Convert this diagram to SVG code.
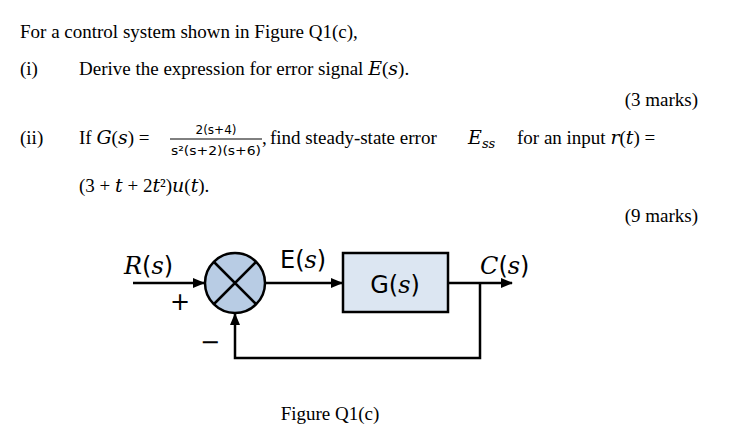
<svg xmlns="http://www.w3.org/2000/svg" width="755" height="440" viewBox="0 0 755 440">
<style>
.t{font-family:"Liberation Serif",serif;font-size:19px;fill:#000}
.m{font-family:"DejaVu Serif","Liberation Serif",serif;font-style:italic}
.f{font-family:"DejaVu Sans","Liberation Sans",sans-serif;font-size:12px;fill:#000}
.c{font-family:"DejaVu Sans","Liberation Sans",sans-serif;font-size:24px;fill:#000}
.l{stroke:#000;stroke-width:2.5;fill:none}
</style>
<defs><marker id="a" viewBox="0 0 12 10" refX="11" refY="5" markerWidth="12" markerHeight="10" orient="auto" markerUnits="userSpaceOnUse"><path d="M0,0L12,5L0,10z" fill="#000"/></marker></defs>
<rect width="755" height="440" fill="#fff"/>
<text class="t" x="20" y="38">For a control system shown in Figure Q1(c),</text>
<text class="t" x="20" y="75">(i)</text>
<text class="t" x="79" y="75">Derive the expression for error signal <tspan class="m">E</tspan>(<tspan class="m">s</tspan>).</text>
<text class="t" x="698" y="106" text-anchor="end">(3 marks)</text>
<text class="t" x="20" y="144">(ii)</text>
<text class="t" x="79" y="144">If  <tspan class="m">G</tspan>(<tspan class="m">s</tspan>) =</text>
<text class="f" x="216" y="134" text-anchor="middle">2(s+4)</text>
<line x1="170" y1="139" x2="262" y2="139" stroke="#000" stroke-width="1"/>
<text class="f" x="216" y="155" text-anchor="middle" textLength="90" lengthAdjust="spacingAndGlyphs">s²(s+2)(s+6)</text>
<text class="t" x="262" y="144">,</text>
<text class="t" x="270" y="144">find   steady-state   error  </text>
<text class="t" x="468" y="144"><tspan class="m">E</tspan><tspan class="m" font-size="13" dy="4">ss</tspan></text>
<text class="t" x="517" y="144">for   an   input   <tspan class="m">r</tspan>(<tspan class="m">t</tspan>) =</text>
<text class="t" x="79" y="192">(3 + <tspan class="m">t</tspan> + 2<tspan class="m">t</tspan>²)<tspan class="m">u</tspan>(<tspan class="m">t</tspan>).</text>
<text class="t" x="698" y="222" text-anchor="end">(9 marks)</text>
<g id="sum"><circle cx="235" cy="283" r="30" fill="#b8cce4" stroke="#000" stroke-width="2.5"/><path class="l" d="M214,262L256,304M256,262L214,304"/></g>
<g id="G"><rect x="343" y="253" width="105" height="59" fill="#dce6f2" stroke="#000" stroke-width="2.5"/><text class="c" x="395" y="293" text-anchor="middle">G(<tspan class="m">s</tspan>)</text></g>
<g id="connectors">
<path class="l" d="M133,283H204" marker-end="url(#a)"/>
<path class="l" d="M265,283H342" marker-end="url(#a)"/>
<path class="l" d="M448,283H512" marker-end="url(#a)"/>
<path class="l" d="M480,283V358H235V314" marker-end="url(#a)"/>
</g>
<text class="c" x="124" y="274" font-family="Liberation Serif"><tspan class="m">R</tspan>(<tspan class="m">s</tspan>)</text>
<text class="c" x="170" y="310">+</text>
<text class="c" x="200" y="350">−</text>
<text class="c" x="280" y="268">E(<tspan class="m">s</tspan>)</text>
<text class="c" x="480" y="274" font-family="Liberation Serif"><tspan class="m">C</tspan>(<tspan class="m">s</tspan>)</text>
<text class="t" x="330" y="420" text-anchor="middle">Figure Q1(c)</text>
</svg>
